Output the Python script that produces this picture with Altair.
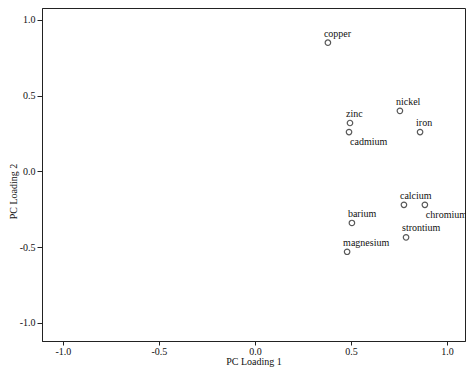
import altair as alt
import pandas as pd

elements = ["copper", "nickel", "zinc", "cadmium", "iron",
            "calcium", "chromium", "barium", "strontium", "magnesium"]
loading1 = [0.38, 0.755, 0.495, 0.49, 0.86, 0.776, 0.885, 0.505, 0.787, 0.48]
loading2 = [0.85, 0.40, 0.32, 0.26, 0.26, -0.22, -0.22, -0.34, -0.435, -0.53]
labels_below = ["cadmium", "chromium"]
ticks = [-1.0, -0.5, 0.0, 0.5, 1.0]

df = pd.DataFrame({"element": elements, "pc1": loading1, "pc2": loading2})
df["below"] = df["element"].isin(labels_below)

FONT = "Liberation Serif"
hyphen = "replace(datum.label, '\u2212', '-')"

x = alt.X("pc1:Q", title="PC Loading 1",
          scale=alt.Scale(domain=[-1.109, 1.094], nice=False, zero=False),
          axis=alt.Axis(values=ticks, format=".1f", labelExpr=hyphen,
                        grid=False, tickSize=4,
                        labelPadding=1, titlePadding=0, domainColor="#222",
                        tickColor="#222"))
y = alt.Y("pc2:Q", title="PC Loading 2",
          scale=alt.Scale(domain=[-1.119, 1.079], nice=False, zero=False),
          axis=alt.Axis(values=ticks, format=".1f", labelExpr=hyphen,
                        grid=False, tickSize=5,
                        labelPadding=2, domainColor="#222", tickColor="#222",
                        titleAngle=270, titleX=-29, titleY=183,
                        titleAlign="center", titleBaseline="middle"))

base = alt.Chart(df)

points = base.mark_point(shape="circle", filled=False, color="#111",
                         size=30, strokeWidth=1.2).encode(x=x, y=y)

above = base.transform_filter("!datum.below").mark_text(
    align="left", baseline="middle", dx=-4, dy=-9, font=FONT, fontSize=10,
    color="#111").encode(x=x, y=y, text="element:N")

below = base.transform_filter("datum.below").mark_text(
    align="left", baseline="middle", dx=1, dy=10, font=FONT, fontSize=10,
    color="#111").encode(x=x, y=y, text="element:N")

chart = alt.layer(points, above, below).properties(
    width=423, height=333,
    autosize=alt.AutoSizeParams(type="none"),
    padding={"left": 34, "top": 0, "right": 1, "bottom": 26},
).configure_view(
    stroke="#222", strokeWidth=1
).configure_axis(
    labelFont=FONT, titleFont=FONT, labelFontSize=10, titleFontSize=10,
    titleFontWeight="normal", labelColor="#111", titleColor="#111"
)

chart.save("out.html", embed_options={"renderer": "svg", "actions": False})
